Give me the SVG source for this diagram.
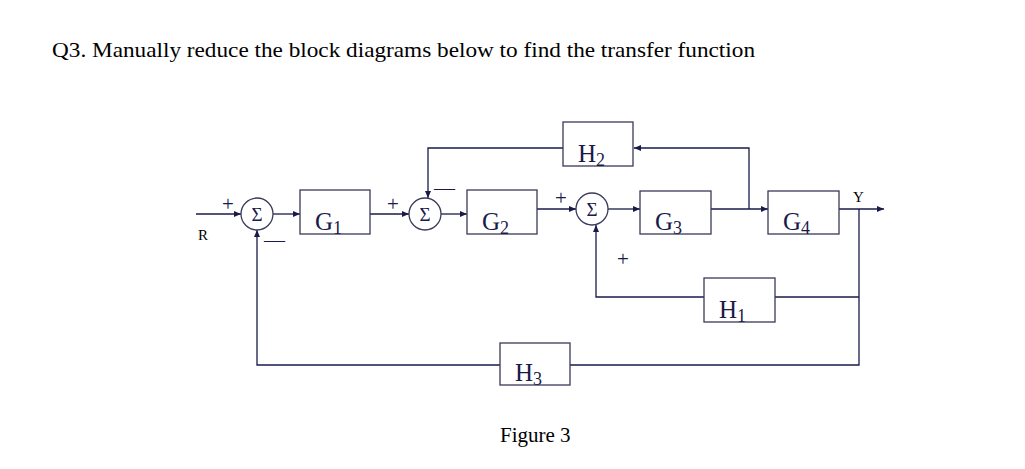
<svg xmlns="http://www.w3.org/2000/svg" width="1025" height="469" viewBox="0 0 1025 469">
<style>
text{font-family:"Liberation Serif",serif;fill:#000}
.b rect{fill:#fff;stroke:#3a3a5a;stroke-width:1.3}
.b text{font-size:25px;fill:#1a1a4a}
.s circle{fill:#fff;stroke:#3a3a5a;stroke-width:1.3}
.s text{font-size:19px;fill:#1a1a4a}
.c path{fill:none;stroke:#1a1a4a;stroke-width:1.3}
.sg{font-size:21px;fill:#1a1a4a}
</style>
<defs><marker id="a" markerWidth="8" markerHeight="8" refX="7" refY="4" orient="auto" markerUnits="userSpaceOnUse"><path d="M0,1 L7,4 L0,7z" fill="#1a1a4a"/></marker></defs>
<rect width="1025" height="469" fill="#fff"/>
<text x="52" y="57" font-size="21" textLength="703" lengthAdjust="spacingAndGlyphs">Q3. Manually reduce the block diagrams below to find the transfer function</text>
<g class="c">
<path d="M196,214 H241" marker-end="url(#a)"/>
<path d="M273,214 H300" marker-end="url(#a)"/>
<path d="M370,214 H409" marker-end="url(#a)"/>
<path d="M441,214 H467" marker-end="url(#a)"/>
<path d="M537,209 H576" marker-end="url(#a)"/>
<path d="M608,209 H640" marker-end="url(#a)"/>
<path d="M711,209 H768" marker-end="url(#a)"/>
<path d="M839,209 H884" marker-end="url(#a)"/>
<path d="M749,209 V148 H634" marker-end="url(#a)"/>
<path d="M563,148 H428 V198" marker-end="url(#a)"/>
<path d="M859,209 V365 H570"/>
<path d="M500,365 H257 V230" marker-end="url(#a)"/>
<path d="M859,297 H775"/>
<path d="M704,297 H596 V225" marker-end="url(#a)"/>
</g>
<g id="sum1" class="s"><circle cx="257" cy="214" r="16"/><text x="257" y="221" text-anchor="middle">Σ</text></g>
<g id="sum2" class="s"><circle cx="425" cy="214" r="16"/><text x="425" y="221" text-anchor="middle">Σ</text></g>
<g id="sum3" class="s"><circle cx="592" cy="209" r="16"/><text x="592" y="216" text-anchor="middle">Σ</text></g>
<g id="G1" class="b"><rect x="300" y="190" width="70" height="44"/><text x="315" y="230">G<tspan font-size="18" dy="4">1</tspan></text></g>
<g id="G2" class="b"><rect x="467" y="190" width="70" height="44"/><text x="482" y="230">G<tspan font-size="18" dy="4">2</tspan></text></g>
<g id="G3" class="b"><rect x="640" y="191" width="71" height="43"/><text x="655" y="230">G<tspan font-size="18" dy="4">3</tspan></text></g>
<g id="G4" class="b"><rect x="768" y="191" width="71" height="43"/><text x="783" y="230">G<tspan font-size="18" dy="4">4</tspan></text></g>
<g id="H2" class="b"><rect x="563" y="122" width="70" height="44"/><text x="578" y="162">H<tspan font-size="18" dy="4">2</tspan></text></g>
<g id="H1" class="b"><rect x="704" y="278" width="71" height="44"/><text x="719" y="318">H<tspan font-size="18" dy="4">1</tspan></text></g>
<g id="H3" class="b"><rect x="500" y="343" width="70" height="42"/><text x="515" y="381">H<tspan font-size="18" dy="4">3</tspan></text></g>
<text class="sg" x="222" y="211">+</text>
<text class="sg" x="264" y="247">—</text>
<text class="sg" x="387" y="211">+</text>
<text class="sg" x="434" y="195">—</text>
<text class="sg" x="555" y="205">+</text>
<text class="sg" x="617" y="266">+</text>
<text x="198" y="240" font-size="15" fill="#1a1a4a">R</text>
<text x="853" y="202" font-size="15" fill="#1a1a4a">Y</text>
<text x="500" y="442" font-size="21">Figure 3</text>
</svg>
